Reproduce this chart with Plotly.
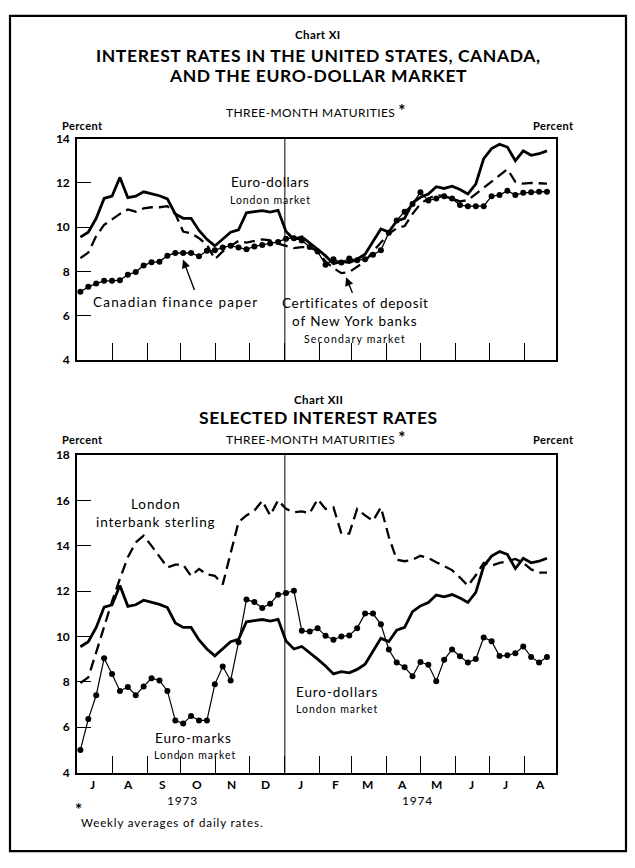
import plotly.graph_objects as go
import pandas as pd

W, H = 635, 868

# ---------------- data (weekly averages, week ending Wednesday) ----------------
weeks = pd.date_range("1973-07-04", periods=60, freq="7D")

euro_dollars = [9.55, 9.77, 10.4, 11.3, 11.4, 12.25, 11.33, 11.4, 11.6, 11.5,
                11.42, 11.28, 10.6, 10.4, 10.4, 9.85, 9.45, 9.15, 9.45, 9.77,
                9.88, 10.65, 10.7, 10.75, 10.68, 10.76, 9.8, 9.45, 9.56, 9.3,
                9.0, 8.7, 8.35, 8.45, 8.4, 8.55, 8.78, 9.35, 9.92, 9.78,
                10.28, 10.4, 11.1, 11.35, 11.5, 11.83, 11.75, 11.85, 11.7, 11.5,
                11.95, 13.1, 13.55, 13.75, 13.62, 13.0, 13.45, 13.25, 13.32, 13.45]

cds_ny = [8.6, 8.85, 9.6, 10.1, 10.35, 10.6, 10.8, 10.7, 10.85, 10.9,
          10.9, 10.95, 10.6, 9.8, 9.72, 9.5, 9.2, 8.55, 8.9, 9.15,
          9.38, 9.3, 9.38, 9.45, 9.4, 9.25, 9.15, 9.05, 9.1, 9.1,
          8.9, 8.45, 8.15, 7.92, 7.97, 8.2, 8.45, 8.9, 9.3, 9.7,
          9.95, 10.05, 10.6, 11.05, 11.3, 11.45, 11.4, 11.3, 11.17, 11.22,
          11.5, 11.8, 12.1, 12.35, 12.62, 12.05, 11.97, 12.0, 12.0, 11.97]

canadian_fp = [7.08, 7.3, 7.45, 7.57, 7.57, 7.6, 7.85, 7.97, 8.27, 8.41,
               8.44, 8.71, 8.83, 8.83, 8.83, 8.68, 8.93, 8.95, 9.08, 9.16,
               9.08, 9.0, 9.13, 9.19, 9.26, 9.33, 9.48, 9.5, 9.4, 9.1,
               8.9, 8.3, 8.55, 8.4, 8.58, 8.5, 8.55, 8.75, 8.95, 9.75,
               10.3, 10.7, 11.05, 11.58, 11.2, 11.3, 11.4, 11.3, 11.0, 10.95,
               10.95, 10.95, 11.4, 11.45, 11.65, 11.45, 11.55, 11.58, 11.6, 11.6]

sterling = [7.95, 8.2, 9.3, 10.45, 11.55, 12.55, 13.5, 14.15, 14.45, 14.0,
            13.5, 13.05, 13.17, 13.17, 12.67, 12.98, 12.74, 12.68, 12.3, 13.7,
            15.05, 15.34, 15.55, 15.99, 15.34, 16.01, 15.63, 15.48, 15.52, 15.44,
            16.06, 15.63, 15.7, 14.54, 14.54, 15.63, 15.34, 15.1, 15.7, 14.4,
            13.39, 13.32, 13.39, 13.56, 13.46, 13.28, 13.1, 12.93, 12.6, 12.24,
            12.7, 13.25, 13.13, 13.25, 13.32, 13.42, 13.25, 12.96, 12.82, 12.82]

euro_marks = [5.0, 6.36, 7.41, 9.04, 8.35, 7.6, 7.77, 7.41, 7.8, 8.16,
              8.06, 7.6, 6.3, 6.16, 6.5, 6.3, 6.3, 7.89, 8.68, 8.06,
              9.75, 11.63, 11.52, 11.26, 11.45, 11.84, 11.92, 12.02, 10.25, 10.22,
              10.37, 10.03, 9.86, 10.0, 10.05, 10.37, 11.01, 11.01, 10.54, 9.43,
              8.85, 8.65, 8.25, 8.88, 8.75, 8.03, 8.97, 9.43, 9.13, 8.85,
              9.01, 9.96, 9.79, 9.14, 9.17, 9.26, 9.56, 9.1, 8.85, 9.1]

month_labels = ["J", "A", "S", "O", "N", "D", "J", "F", "M", "A", "M", "J", "J", "A"]
month_label_dates = pd.date_range("1973-07-01", periods=14, freq="MS") + pd.Timedelta(days=14)
month_ticks = pd.date_range("1973-08-01", "1974-08-01", freq="MS")
year_labels = ["1973", "1974"]
year_label_dates = [pd.Timestamp("1973-10-02"), pd.Timestamp("1974-04-28")]
year_divider = pd.Timestamp("1974-01-01")

top_ticks = [4, 6, 8, 10, 12, 14]
bottom_ticks = [4, 6, 8, 10, 12, 14, 16, 18]

FONT = "Lato"
INK = "black"


def px_x(x):
    return x / W


def px_y(y):
    return 1 - y / H


def spaced(s, ls):
    return f"<span style='letter-spacing:{ls}px'>{s}</span>"


fig = go.Figure()

# ---------------- top panel ----------------
fig.add_trace(go.Scatter(x=weeks, y=euro_dollars, mode="lines", name="Euro-dollars",
                         line=dict(color=INK, width=2.8), xaxis="x", yaxis="y"))
fig.add_trace(go.Scatter(x=weeks, y=cds_ny, mode="lines", name="CDs",
                         line=dict(color=INK, width=2.3, dash="11px,6px"), xaxis="x", yaxis="y"))
fig.add_trace(go.Scatter(x=weeks, y=canadian_fp, mode="lines+markers", name="Canadian",
                         line=dict(color=INK, width=1.3), marker=dict(color=INK, size=6),
                         xaxis="x", yaxis="y"))

# ---------------- bottom panel ----------------
fig.add_trace(go.Scatter(x=weeks, y=sterling, mode="lines", name="Sterling",
                         line=dict(color=INK, width=2.3, dash="11px,6px"), xaxis="x2", yaxis="y2"))
fig.add_trace(go.Scatter(x=weeks, y=euro_dollars, mode="lines", name="Euro-dollars 2",
                         line=dict(color=INK, width=2.8), xaxis="x2", yaxis="y2"))
fig.add_trace(go.Scatter(x=weeks, y=euro_marks, mode="lines+markers", name="Euro-marks",
                         line=dict(color=INK, width=1.2), marker=dict(color=INK, size=6),
                         xaxis="x2", yaxis="y2"))

xdom = [px_x(77), px_x(556)]
xrange_ = [pd.Timestamp("1973-07-01"), pd.Timestamp("1974-08-29")]
common_x = dict(domain=xdom, range=xrange_, type="date", tickmode="array", tickvals=list(month_ticks),
                ticks="inside", ticklen=17, tickwidth=1.2, tickcolor=INK, showticklabels=False,
                showline=True, linecolor=INK, linewidth=1.6, mirror=True, showgrid=False, zeroline=False)
tickfont = dict(family=FONT, size=12, color=INK, weight="bold")
common_y = dict(tickmode="array", ticks="inside", ticklen=14, tickwidth=1.2, tickcolor=INK,
                showline=True, linecolor=INK, linewidth=1.6, showgrid=False, zeroline=False,
                tickfont=tickfont, ticklabelstandoff=3)

fig.update_layout(
    width=W, height=H, autosize=False,
    margin=dict(l=0, r=0, t=0, b=0),
    paper_bgcolor="white", plot_bgcolor="white",
    showlegend=False,
    xaxis=dict(anchor="y", **common_x),
    xaxis2=dict(anchor="y2", **common_x),
    yaxis=dict(domain=[px_y(358), px_y(133)], range=[4, 14], tickvals=top_ticks, anchor="x",
               side="left", mirror=True, **common_y),
    yaxis3=dict(range=[4, 14], tickvals=top_ticks, anchor="x", overlaying="y", side="right",
                **common_y),
    yaxis2=dict(domain=[px_y(778), px_y(455)], range=[4, 18], tickvals=bottom_ticks, anchor="x2",
                side="left", mirror=True, **common_y),
    yaxis4=dict(range=[4, 18], tickvals=bottom_ticks, anchor="x2", overlaying="y2", side="right",
                **common_y),
)

# year dividers
for xa, ya in (("x", "y"), ("x2", "y2")):
    fig.add_shape(type="line", xref=xa, yref=f"{ya} domain", x0=year_divider, x1=year_divider,
                  y0=0, y1=1, line=dict(color=INK, width=1))

# outer frame
fig.add_shape(type="rect", xref="paper", yref="paper", x0=px_x(10), x1=px_x(626),
              y0=px_y(858), y1=px_y(8), line=dict(color=INK, width=2.2))


def text(x, y, s, size, bold=False, xanchor="center", ls=0.0):
    fig.add_annotation(x=px_x(x), y=px_y(y), xref="paper", yref="paper",
                       text=spaced(s, ls) if ls else s, showarrow=False,
                       xanchor=xanchor, yanchor="middle",
                       font=dict(family=FONT, size=size, color=INK, weight="bold" if bold else "normal"))


STAR = " <span style='font-size:17px;font-weight:bold'>*</span>"

# titles
text(318, 27, "Chart XI", 11.5, True, ls=0.4)
text(318, 48, "INTEREST RATES IN THE UNITED STATES, CANADA,", 17.5, True, ls=0.6)
text(318, 69, "AND THE EURO-DOLLAR MARKET", 17.5, True, ls=0.6)
text(316, 104, spaced("THREE-MONTH MATURITIES", 0.4) + STAR, 12)
text(82, 120, "Percent", 11, True, ls=0.4)
text(553, 120, "Percent", 11, True, ls=0.4)

text(318, 398, "Chart XII", 11.5, True, ls=0.4)
text(318, 417, "SELECTED INTEREST RATES", 17.5, True, ls=0.6)
text(316, 437, spaced("THREE-MONTH MATURITIES", 0.4) + STAR, 12)
text(82, 439.5, "Percent", 11, True, ls=0.4)
text(553, 439.5, "Percent", 11, True, ls=0.4)

# series labels, top panel
text(270, 177, "Euro-dollars", 13.5, ls=0.6)
text(270, 195, "London market", 10.5, ls=0.9)
text(175, 299, "Canadian finance paper", 13.5, ls=1.2)
text(355, 300, "Certificates of deposit", 13.5, ls=0.7)
text(355, 319, "of New York banks", 13.5, ls=0.9)
text(355, 337, "Secondary market", 10.5, ls=1.2)

# series labels, bottom panel
text(156, 505, "London", 13.5, ls=0.9)
text(156, 523, "interbank sterling", 13.5, ls=0.9)
text(337, 696, "Euro-dollars", 13.5, ls=0.9)
text(337, 713, "London market", 10.5, ls=1.0)
text(193, 743, "Euro-marks", 13.5, ls=0.9)
text(195, 760, "London market", 10.5, ls=1.0)

# arrows
for hx, hy, tx, ty in ((183, 256, 195, 288), (346, 274, 353, 291)):
    fig.add_annotation(x=px_x(hx), y=px_y(hy), xref="paper", yref="paper", text="",
                       showarrow=True, ax=tx - hx, ay=ty - hy, axref="pixel", ayref="pixel",
                       arrowhead=2, arrowsize=1.2, arrowwidth=1.4, arrowcolor=INK)

# month and year labels under bottom panel
for d, lab in zip(month_label_dates, month_labels):
    fig.add_annotation(x=d, y=px_y(790), xref="x2", yref="paper", text=lab, showarrow=False,
                       yanchor="middle", font=dict(family=FONT, size=12, color=INK, weight="bold"))
for d, lab in zip(year_label_dates, year_labels):
    fig.add_annotation(x=d, y=px_y(806), xref="x2", yref="paper", text=spaced(lab, 0.8),
                       showarrow=False, yanchor="middle", font=dict(family=FONT, size=12, color=INK))

# footnote
text(73, 816, "*", 17, True, xanchor="left")
text(79, 829, "Weekly averages of daily rates.", 11.5, xanchor="left", ls=0.9)

fig.write_html("out.html", config={"displayModeBar": False},
               post_script="document.body.style.margin='0';document.body.style.overflow='hidden';")
